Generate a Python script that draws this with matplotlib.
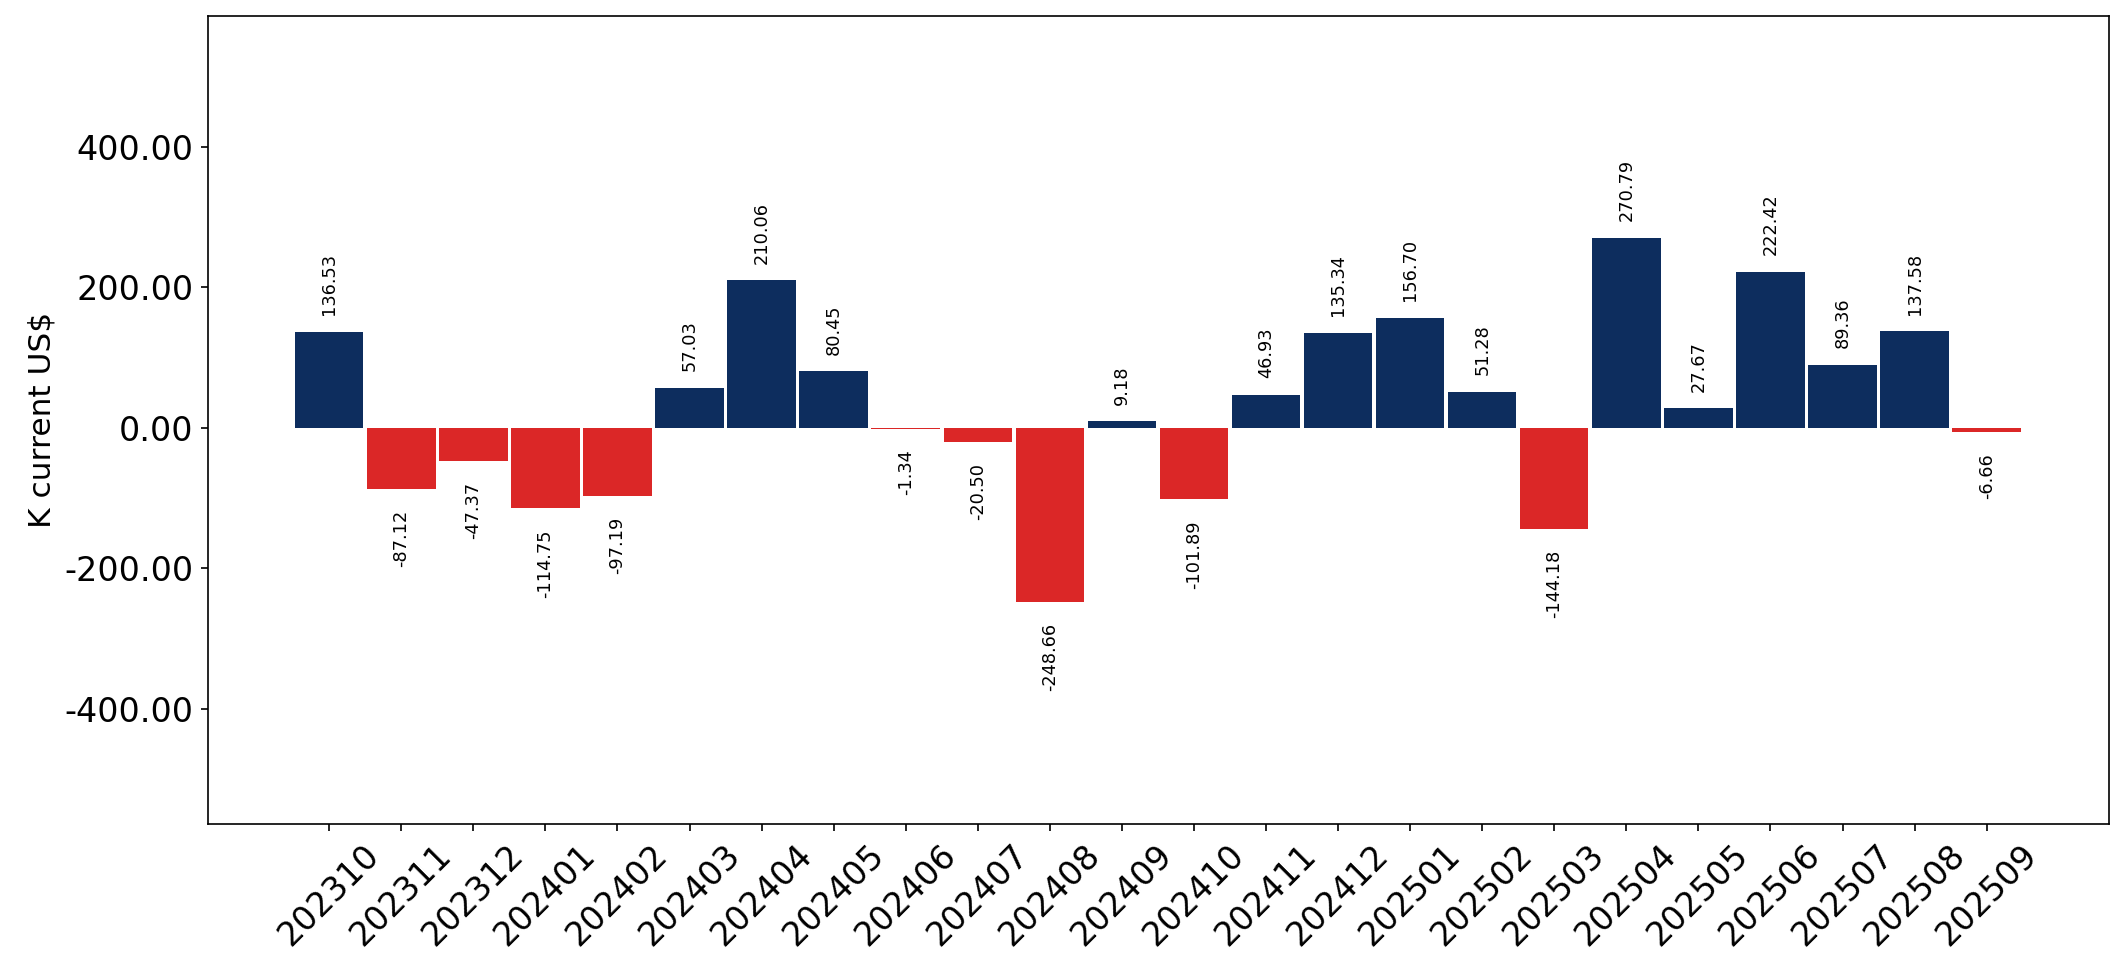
import numpy as np
import matplotlib.pyplot as plt

# periodos y valores (K current US$)
periodos = ['202310', '202311', '202312', '202401', '202402', '202403', '202404', '202405',
            '202406', '202407', '202408', '202409', '202410', '202411', '202412', '202501',
            '202502', '202503', '202504', '202505', '202506', '202507', '202508', '202509']
valores = [136.53, -87.12, -47.37, -114.75, -97.19, 57.03, 210.06, 80.45,
           -1.34, -20.50, -248.66, 9.18, -101.89, 46.93, 135.34, 156.70,
           51.28, -144.18, 270.79, 27.67, 222.42, 89.36, 137.58, -6.66]

azul = '#0d2d5e'
rojo = '#db2727'
colores = [azul if v >= 0 else rojo for v in valores]

fig, ax = plt.subplots(figsize=(14.16, 6.5), dpi=150)
x = np.arange(len(periodos))
barras = ax.bar(x, valores, width=0.95, color=colores)

# etiquetas de valor sobre / bajo cada barra
for xi, v in zip(x, valores):
    if v >= 0:
        ax.annotate(f'{v:.2f}', (xi, v), xytext=(0, 8), textcoords='offset points',
                    ha='center', va='bottom', rotation=90, fontsize=8.5)
    else:
        ax.annotate(f'{v:.2f}', (xi, v), xytext=(0, -10), textcoords='offset points',
                    ha='center', va='top', rotation=90, fontsize=8.5)

ax.set_xticks(x)
ax.set_xticklabels(periodos, rotation=45, fontsize=16)
ax.set_xlim(-1.68, len(periodos) - 1 + 1.7)
ax.set_ylim(-564, 587)
ax.set_yticks([-400, -200, 0, 200, 400])
ax.set_yticklabels([f'{t:.2f}' for t in [-400, -200, 0, 200, 400]], fontsize=16)
ax.set_ylabel('K current US$', fontsize=15)

plt.subplots_adjust(left=0.098, right=0.993, top=0.984, bottom=0.155)
plt.savefig('out.png')
